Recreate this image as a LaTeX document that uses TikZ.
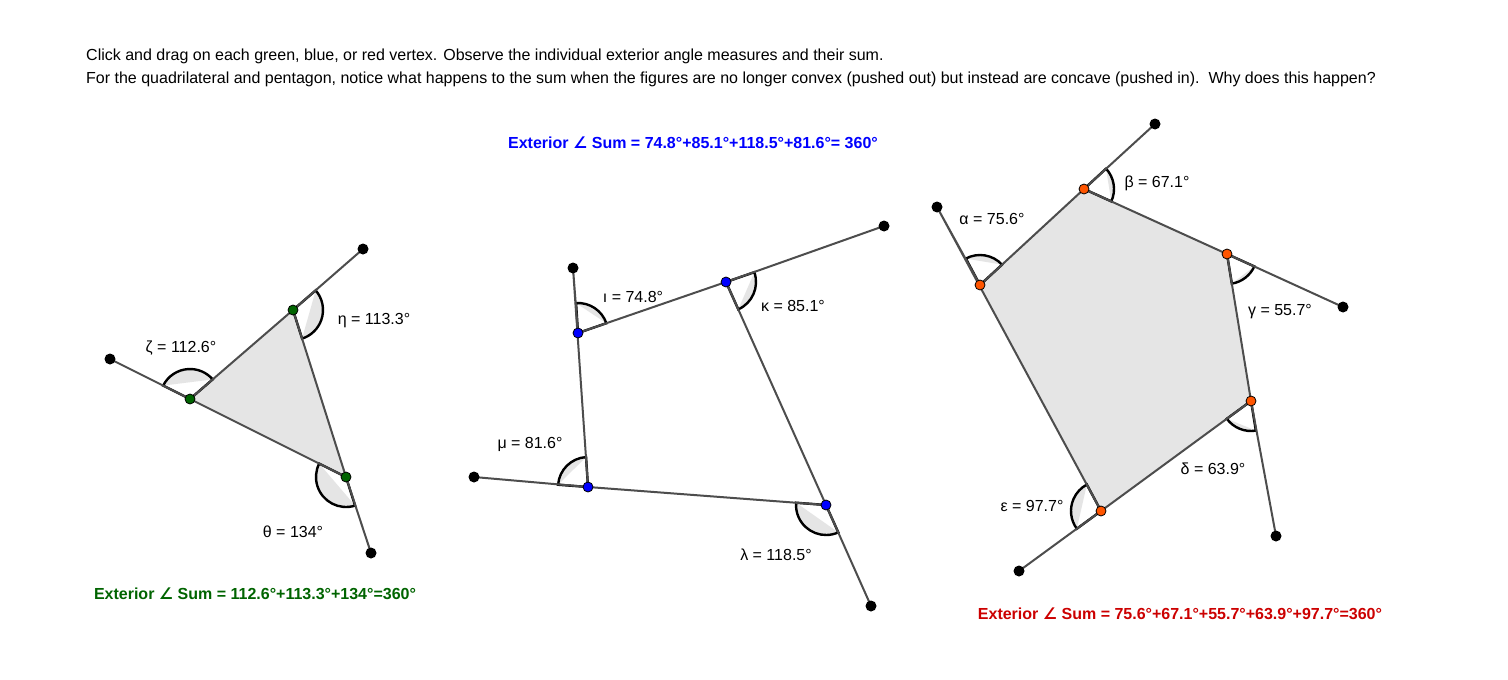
\documentclass[tikz,border=0pt]{standalone}
\usepackage{fontspec}
\setmainfont{Liberation Sans}
\newfontfamily\dejavu{DejaVu Sans}
\usetikzlibrary{calc}
\definecolor{gg}{HTML}{006400}
\definecolor{rr}{HTML}{CC0000}
\definecolor{vo}{HTML}{FF5500}
\definecolor{edge}{HTML}{4D4D4D}
\tikzset{
 side/.style={draw=edge,line width=2pt},
 fillpoly/.style={fill=black!10},
 blackpt/.style={circle,fill=black,inner sep=0,minimum size=11pt},
 vpt/.style={circle,draw=black,line width=0.8pt,inner sep=0,minimum size=10pt},
 lab/.style={font=\fontsize{16}{19}\selectfont},
 title/.style={font=\bfseries\fontsize{16}{19}\selectfont},
}
\newcommand\ang{{\dejavu\bfseries ∠}}
\newcommand\exang[4]{%
 \path let \p1=($(#1)-(#2)$), \p2=($(#3)-(#1)$), \n1={atan2(\y1,\x1)}, \n2={atan2(\y2,\x2)},
   \n3={mod(\n2-\n1+720,360)}, \n4={ifthenelse(\n3>180,\n3-360,\n3)} in
   [fill=black!10] (#1) -- ++(\n1:#4) arc[start angle=\n1, delta angle=\n4, radius=#4] -- cycle
   [draw=edge,line width=2pt] ($(#1)+(\n1:#4)$) arc[start angle=\n1, delta angle=\n4, radius=#4]
   [draw=black,line width=2.4pt] ($(#1)+(\n1:#4)$) -- (#1) -- ($(#1)+(\n2:#4)$);}
\begin{document}
\begin{tikzpicture}[x=1pt,y=-1pt]
\useasboundingbox (0,0) rectangle (1508,680);
\fill[white] (0,0) rectangle (1508,680);
\node[lab,anchor=west,inner sep=0] at (86,56) {Click and drag on each green, blue, or red vertex. Observe the individual exterior angle measures and their sum.};
\node[lab,anchor=west,inner sep=0] at (86,79) {For the quadrilateral and pentagon, notice what happens to the sum when the figures are no longer convex (pushed out) but instead are concave (pushed in).\ \ Why does this happen?};
% triangle
\coordinate (A) at (190,399); \coordinate (B) at (293,310); \coordinate (C) at (346,477);
\coordinate (A1) at (110,359); \coordinate (B1) at (363,249); \coordinate (C1) at (371,553);
\fill[fillpoly] (A)--(B)--(C)--cycle;
\exang{A}{C}{B}{30pt}\exang{B}{A}{C}{30pt}\exang{C}{B}{A}{30pt}
\draw[side] (A1)--(A)--(B)--(C)--cycle (B)--(B1) (C)--(C1);
% quadrilateral
\coordinate (P) at (578,333); \coordinate (Q) at (726,282); \coordinate (R) at (826,505); \coordinate (S) at (588,487);
\coordinate (P1) at (573,268); \coordinate (Q1) at (884,226); \coordinate (R1) at (871,606); \coordinate (S1) at (474,477);
\exang{P}{S}{Q}{30pt}\exang{Q}{P}{R}{30pt}\exang{R}{Q}{S}{30pt}\exang{S}{R}{P}{30pt}
\draw[side] (P1)--(P)--(Q)--(R)--(S)--cycle (Q)--(Q1) (R)--(R1) (S)--(S1);
% pentagon
\coordinate (V1) at (980,285); \coordinate (V2) at (1084,189); \coordinate (V3) at (1227,254); \coordinate (V4) at (1251,401); \coordinate (V5) at (1101,511);
\coordinate (E1) at (937,207); \coordinate (E2) at (1155,124); \coordinate (E3) at (1343,307); \coordinate (E4) at (1276,536); \coordinate (E5) at (1019,571);
\fill[fillpoly] (V1)--(V2)--(V3)--(V4)--(V5)--cycle;
\exang{V1}{V5}{V2}{30pt}\exang{V2}{V1}{V3}{30pt}\exang{V3}{V2}{V4}{30pt}\exang{V4}{V3}{V5}{30pt}\exang{V5}{V4}{V1}{30pt}
\draw[side] (E1)--(V1)--(V2)--(V3)--(V4)--(V5)--cycle (V2)--(E2) (V3)--(E3) (V4)--(E4) (V5)--(E5);
% points
\foreach \p in {A1,B1,C1,P1,Q1,R1,S1,E1,E2,E3,E4,E5} \node[blackpt] (n\p) at (\p) {};
\foreach \p in {A,B,C} \node[vpt,fill=gg] (n\p) at (\p) {};
\foreach \p in {P,Q,R,S} \node[vpt,fill=blue] (n\p) at (\p) {};
\foreach \p in {V1,V2,V3,V4,V5} \node[vpt,fill=vo] (n\p) at (\p) {};
% labels
\node[lab] (l1) at (181,348) {ζ = 112.6°};
\node[lab] (l2) at (374,321) {η = 113.3°};
\node[lab] (l3) at (293,532) {θ = 134°};
\node[lab] (l4) at (633,297) {ı = 74.8°};
\node[lab] (l5) at (793,306) {κ = 85.1°};
\node[lab] (l6) at (776,555) {λ = 118.5°};
\node[lab] (l7) at (530,444) {μ = 81.6°};
\node[lab] (l8) at (992,219) {α = 75.6°};
\node[lab] (l9) at (1157,183) {β = 67.1°};
\node[lab] (l10) at (1280,312) {γ = 55.7°};
\node[lab] (l11) at (1213,469) {δ = 63.9°};
\node[lab] (l12) at (1032,506) {ε = 97.7°};
\node[title,text=blue] (t1) at (693,143) {Exterior \ang\ Sum = 74.8°+85.1°+118.5°+81.6°= 360°};
\node[title,text=gg] (t2) at (255,594) {Exterior \ang\ Sum = 112.6°+113.3°+134°=360°};
\node[title,text=rr] (t3) at (1180,614) {Exterior \ang\ Sum = 75.6°+67.1°+55.7°+63.9°+97.7°=360°};
\end{tikzpicture}
\end{document}
